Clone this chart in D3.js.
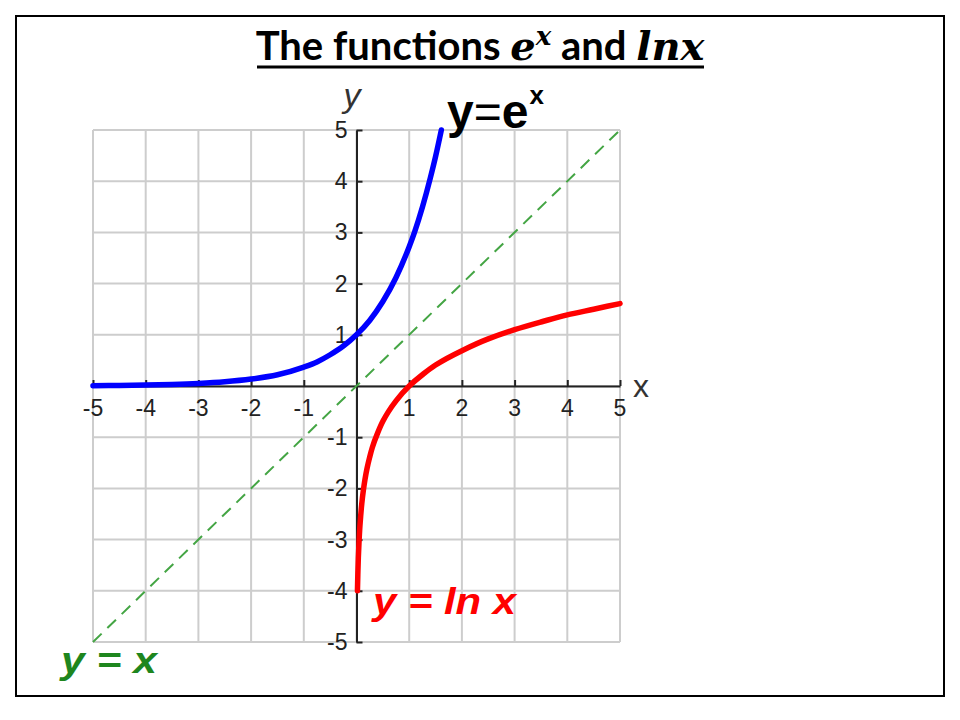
<!DOCTYPE html>
<html><head><meta charset="utf-8">
<script src="https://cdn.jsdelivr.net/npm/d3@7"></script>
<style>body{margin:0;background:#fff}svg{display:block}</style>
</head><body>
<script>
// Data
const xTicks = [-5,-4,-3,-2,-1,0,1,2,3,4,5];
const yTicks = [-5,-4,-3,-2,-1,0,1,2,3,4,5];
const xTickLabels = ["-5","-4","-3","-2","-1","","1","2","3","4","5"];
const yTickLabels = ["-5","-4","-3","-2","-1","","1","2","3","4","5"];
const expX = [-5,-4.5,-4,-3.5,-3,-2.5,-2,-1.5,-1,-0.75,-0.5,-0.25,0,0.25,0.5,0.75,1,1.1,1.25,1.4,1.5,1.61];
const expY = [0.007,0.011,0.018,0.03,0.05,0.082,0.135,0.22,0.37,0.47,0.61,0.78,1,1.28,1.65,2.12,2.72,3.0,3.49,4.06,4.48,5.0];
const lnX = [0.018,0.025,0.035,0.05,0.065,0.08,0.1,0.13,0.16,0.2,0.25,0.3,0.4,0.5,0.6,0.75,1,1.25,1.5,2,2.5,3,3.5,4,4.5,5];
const lnY = [-4.0,-3.69,-3.35,-3.0,-2.73,-2.53,-2.3,-2.04,-1.83,-1.61,-1.39,-1.2,-0.92,-0.69,-0.51,-0.29,0,0.22,0.41,0.69,0.92,1.1,1.25,1.39,1.5,1.61];
const idX = [-5,5];
const idY = [-5,5];

const W=960,H=720;
const svg=d3.select("body").append("svg").attr("width",W).attr("height",H);
svg.append("rect").attr("x",16).attr("y",16).attr("width",928).attr("height",680)
  .attr("fill","#fff").attr("stroke","#000").attr("stroke-width",2);

// Title
const title=svg.append("text").attr("x",480).attr("y",60).attr("text-anchor","middle")
  .attr("font-family","Lato, 'Open Sans', sans-serif").attr("font-weight","bold").attr("font-size",40).attr("fill","#000");
title.append("tspan").text("The functions ");
title.append("tspan").text("e").attr("font-family","'DejaVu Serif', 'Liberation Serif', serif").attr("font-style","italic");
title.append("tspan").text("x").attr("font-family","'DejaVu Serif', 'Liberation Serif', serif").attr("font-style","italic").attr("font-size",26).attr("dy",-15);
title.append("tspan").text(" and ").attr("dy",15);
title.append("tspan").text("lnx").attr("font-family","'DejaVu Serif', 'Liberation Serif', serif").attr("font-style","italic");
svg.append("line").attr("x1",257).attr("x2",704).attr("y1",67).attr("y2",67).attr("stroke","#000").attr("stroke-width",3);

const x=d3.scaleLinear().domain([-5,5]).range([93,620]);
const y=d3.scaleLinear().domain([-5,5]).range([642,130]);

// grid
const g=svg.append("g");
g.selectAll(".vx").data(xTicks).join("line").attr("x1",d=>x(d)).attr("x2",d=>x(d))
  .attr("y1",y(5)).attr("y2",y(-5)).attr("stroke","#cdcdcd").attr("stroke-width",2);
g.selectAll(".hy").data(yTicks).join("line").attr("y1",d=>y(d)).attr("y2",d=>y(d))
  .attr("x1",x(-5)).attr("x2",x(5)).attr("stroke","#cdcdcd").attr("stroke-width",2);

// axes
const xAxis=d3.axisTop(x).tickValues(xTicks.filter(d=>d!==0)).tickSize(6).tickSizeOuter(0).tickFormat(()=> "");
const xa=svg.append("g").attr("transform",`translate(0,${y(0)})`).call(xAxis);
xa.select(".domain").attr("stroke","#222").attr("stroke-width",2);
xa.selectAll(".tick line").attr("stroke","#222").attr("stroke-width",2);
const yAxis=d3.axisRight(y).tickValues(yTicks.filter(d=>d!==0)).tickSize(6).tickSizeOuter(0).tickFormat(()=> "");
const ya=svg.append("g").attr("transform",`translate(${x(0)},0)`).call(yAxis);
ya.select(".domain").attr("stroke","#222").attr("stroke-width",2);
ya.selectAll(".tick line").attr("stroke","#222").attr("stroke-width",2);

// tick labels
const tf="'Liberation Sans', Arial, sans-serif";
svg.append("g").selectAll("text").data(xTicks).join("text")
  .attr("x",d=>x(d)).attr("y",y(0)+30).attr("text-anchor","middle")
  .attr("font-family",tf).attr("font-size",23).attr("fill","#222")
  .text((d,i)=>xTickLabels[i]);
svg.append("g").selectAll("text").data(yTicks).join("text")
  .attr("x",x(0)-9).attr("y",d=>y(d)+8).attr("text-anchor","end")
  .attr("font-family",tf).attr("font-size",23).attr("fill","#222")
  .text((d,i)=>yTickLabels[i]);

// axis names
svg.append("text").attr("x",352).attr("y",107).attr("text-anchor","middle").attr("font-family",tf)
  .attr("font-style","italic").attr("font-size",34).attr("fill","#333").text("y");
svg.append("text").attr("x",641).attr("y",397).attr("text-anchor","middle").attr("font-family",tf)
  .attr("font-size",32).attr("fill","#333").text("x");

// curves
const line=d3.line().x(d=>x(d[0])).y(d=>y(d[1])).curve(d3.curveMonotoneX);
svg.append("path").datum(idX.map((v,i)=>[v,idY[i]])).attr("d",d3.line().x(d=>x(d[0])).y(d=>y(d[1])))
  .attr("fill","none").attr("stroke","#44a544").attr("stroke-width",2).attr("stroke-dasharray","12,8");
svg.append("path").datum(expX.map((v,i)=>[v,expY[i]])).attr("d",line)
  .attr("fill","none").attr("stroke","#0000ff").attr("stroke-width",5.5).attr("stroke-linecap","round");
svg.append("path").datum(lnX.map((v,i)=>[v,lnY[i]])).attr("d",d3.line().x(d=>x(d[0])).y(d=>y(d[1])).curve(d3.curveMonotoneY))
  .attr("fill","none").attr("stroke","#ff0000").attr("stroke-width",5.5).attr("stroke-linecap","round");

// labels
svg.append("text").attr("x",373).attr("y",614).attr("font-family",tf).attr("font-weight","bold")
  .attr("font-style","italic").attr("font-size",36).attr("fill","#ff0000")
  .attr("textLength",143).attr("lengthAdjust","spacingAndGlyphs").text("y = ln x");
svg.append("text").attr("x",61).attr("y",673).attr("font-family",tf).attr("font-weight","bold")
  .attr("font-style","italic").attr("font-size",36).attr("fill","#1e861e")
  .attr("textLength",96).attr("lengthAdjust","spacingAndGlyphs").text("y = x");

const ex=svg.append("text").attr("x",447).attr("y",128).attr("font-family",tf)
  .attr("font-weight","bold").attr("font-size",48).attr("fill","#000");
ex.append("tspan").text("y");
ex.append("tspan").text("=").attr("font-weight","normal");
ex.append("tspan").text("e");
ex.append("tspan").text("x").attr("font-size",26).attr("dx",1).attr("dy",-24);
</script>
</body></html>
